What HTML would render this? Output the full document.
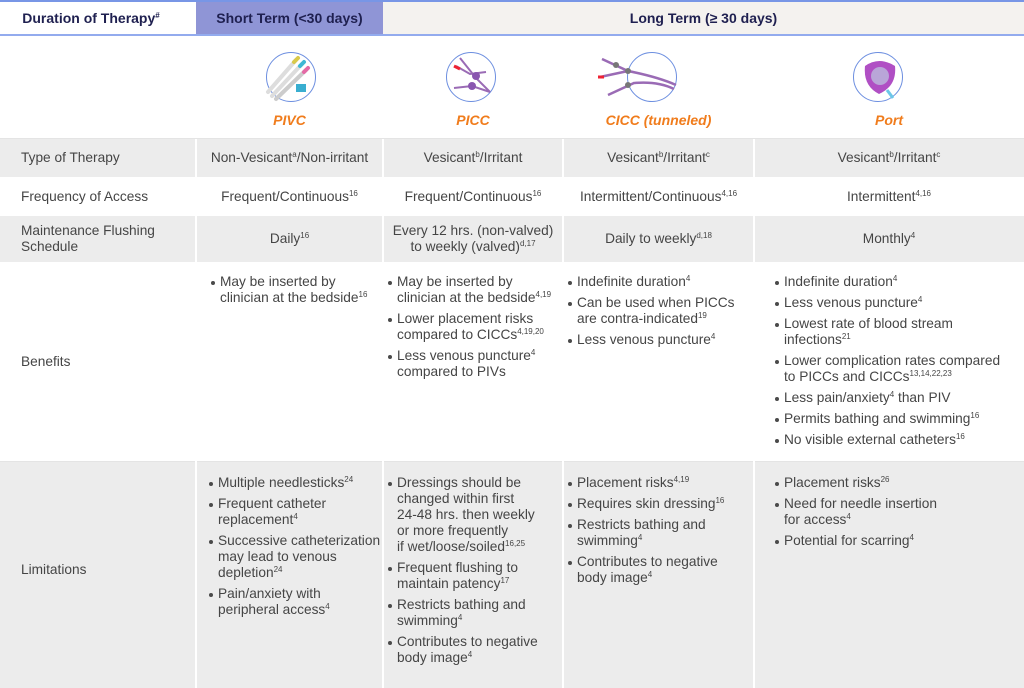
<!DOCTYPE html>
<html><head><meta charset="utf-8"><style>
body{margin:0;width:1024px;height:688px;overflow:hidden;background:#fff;font-family:"Liberation Sans",sans-serif;color:#454545;font-size:13.7px;position:relative}
.a{position:absolute}
.bg{position:absolute;background:#ececec}
.vl{position:absolute;width:2px;background:#fff}
.c{position:absolute;text-align:center;line-height:16px;white-space:nowrap}
.h{font-weight:bold;color:#1f2050;font-size:14px}
.lab{position:absolute;color:#f07c1c;font-weight:bold;font-style:italic;font-size:14px;text-align:center}
ul{position:absolute;margin:0;padding:0;list-style:none;white-space:nowrap;line-height:16px}
li{position:relative;padding-left:9px;margin-bottom:5px}
li:before{content:"";position:absolute;left:0;top:7px;width:4px;height:4px;border-radius:50%;background:#4a4a4a}
ul.p li{padding-left:11px}
ul.p li:before{left:2px}
sup{font-size:8px;line-height:0;vertical-align:5px}
.circ{position:absolute;width:48px;height:48px;border:1.5px solid #6d8fe0;border-radius:50%}
</style></head><body>
<div class="a" style="left:0;top:0;width:1024px;height:2px;background:#7896e6"></div>
<div class="a" style="left:196px;top:2px;width:187px;height:32px;background:#8f95d6"></div>
<div class="a" style="left:383px;top:2px;width:641px;height:32px;background:#f4f2ef"></div>
<div class="a" style="left:0;top:34px;width:1024px;height:2px;background:#93abee"></div>
<div class="c h" style="left:0;width:182px;top:10px">Duration of Therapy<sup>#</sup></div>
<div class="c h" style="left:196px;width:187px;top:10px">Short Term (&lt;30 days)</div>
<div class="c h" style="left:383px;width:641px;top:10px">Long Term (≥ 30 days)</div>
<div class="circ" style="left:266px;top:52px"></div>
<svg class="a" style="left:262px;top:52px" width="56" height="50"><g stroke-linecap="round"><line x1="6" y1="40" x2="34" y2="8" stroke="#ddd" stroke-width="4"/><line x1="10" y1="44" x2="40" y2="12" stroke="#ddd" stroke-width="4"/><line x1="14" y1="47" x2="44" y2="18" stroke="#ccc" stroke-width="4"/><line x1="32" y1="10" x2="36" y2="6" stroke="#d9c94a" stroke-width="4"/><line x1="38" y1="14" x2="42" y2="10" stroke="#3fb8d4" stroke-width="4"/><line x1="42" y1="20" x2="46" y2="16" stroke="#e46aa6" stroke-width="4"/><rect x="34" y="32" width="10" height="8" fill="#39aed0"/></g></svg>
<div class="circ" style="left:446px;top:52px"></div>
<svg class="a" style="left:446px;top:52px" width="52" height="50"><g stroke="#9a6bb5" stroke-width="2" fill="none"><path d="M14 6 L30 26 L44 40"/><path d="M8 36 L26 34 L44 40"/><path d="M10 14 L24 22 L40 20"/></g><line x1="8" y1="14" x2="14" y2="17" stroke="#e23" stroke-width="3"/><circle cx="30" cy="24" r="4" fill="#8a56b0"/><circle cx="26" cy="34" r="4" fill="#8a56b0"/></svg>
<div class="circ" style="left:627px;top:52px"></div>
<svg class="a" style="left:598px;top:55px" width="80" height="45"><g stroke="#9a6bb5" stroke-width="2.5" fill="none"><path d="M4 4 L30 16 Q60 22 78 30"/><path d="M2 22 L30 16"/><path d="M10 40 L36 28 Q60 26 76 34"/></g><line x1="0" y1="22" x2="6" y2="22" stroke="#e23" stroke-width="3"/><circle cx="18" cy="10" r="3" fill="#777"/><circle cx="30" cy="16" r="3" fill="#777"/><circle cx="30" cy="30" r="3" fill="#777"/></svg>
<div class="circ" style="left:853px;top:52px"></div>
<svg class="a" style="left:853px;top:52px" width="52" height="52"><path d="M12 14 Q26 4 42 14 Q44 34 26 42 Q10 34 12 14Z" fill="#b04fc4"/><circle cx="27" cy="24" r="9" fill="#b9a6d8"/><line x1="34" y1="38" x2="40" y2="46" stroke="#6cc7e8" stroke-width="3"/></svg>
<div class="lab" style="left:196px;width:187px;top:112px">PIVC</div>
<div class="lab" style="left:383px;width:180px;top:112px">PICC</div>
<div class="lab" style="left:563px;width:191px;top:112px">CICC (tunneled)</div>
<div class="lab" style="left:754px;width:270px;top:112px">Port</div>
<div class="bg" style="left:0;top:139px;width:1024px;height:38px"></div>
<div class="bg" style="left:0;top:216px;width:1024px;height:46px"></div>
<div class="bg" style="left:0;top:462px;width:1024px;height:226px"></div>
<div class="a" style="left:0;top:138px;width:1024px;height:1px;background:#e4e4e4"></div>
<div class="a" style="left:0;top:461px;width:1024px;height:1px;background:#e4e4e4"></div>
<div class="vl" style="left:195px;top:139px;height:549px"></div>
<div class="vl" style="left:382px;top:139px;height:549px"></div>
<div class="vl" style="left:562px;top:139px;height:549px"></div>
<div class="vl" style="left:753px;top:139px;height:549px"></div>
<div class="c" style="left:21px;top:150px;text-align:left">Type of Therapy</div>
<div class="c" style="left:21px;top:189px;text-align:left">Frequency of Access</div>
<div class="c" style="left:21px;top:223px;text-align:left">Maintenance Flushing<br>Schedule</div>
<div class="c" style="left:21px;top:354px;text-align:left">Benefits</div>
<div class="c" style="left:21px;top:562px;text-align:left">Limitations</div>
<div class="c" style="left:196px;width:187px;top:150px">Non-Vesicant<sup>a</sup>/Non-irritant</div>
<div class="c" style="left:383px;width:180px;top:150px">Vesicant<sup>b</sup>/Irritant</div>
<div class="c" style="left:563px;width:191px;top:150px">Vesicant<sup>b</sup>/Irritant<sup>c</sup></div>
<div class="c" style="left:754px;width:270px;top:150px">Vesicant<sup>b</sup>/Irritant<sup>c</sup></div>
<div class="c" style="left:196px;width:187px;top:189px">Frequent/Continuous<sup>16</sup></div>
<div class="c" style="left:383px;width:180px;top:189px">Frequent/Continuous<sup>16</sup></div>
<div class="c" style="left:563px;width:191px;top:189px">Intermittent/Continuous<sup>4,16</sup></div>
<div class="c" style="left:754px;width:270px;top:189px">Intermittent<sup>4,16</sup></div>
<div class="c" style="left:196px;width:187px;top:231px">Daily<sup>16</sup></div>
<div class="c" style="left:383px;width:180px;top:223px">Every 12 hrs. (non-valved)<br>to weekly (valved)<sup>d,17</sup></div>
<div class="c" style="left:563px;width:191px;top:231px">Daily to weekly<sup>d,18</sup></div>
<div class="c" style="left:754px;width:270px;top:231px">Monthly<sup>4</sup></div>
<ul class="p" style="left:209px;top:274px"><li>May be inserted by<br>clinician at the bedside<sup>16</sup></li></ul>
<ul style="left:388px;top:274px"><li>May be inserted by<br>clinician at the bedside<sup>4,19</sup></li><li>Lower placement risks<br>compared to CICCs<sup>4,19,20</sup></li><li>Less venous puncture<sup>4</sup><br>compared to PIVs</li></ul>
<ul style="left:568px;top:274px"><li>Indefinite duration<sup>4</sup></li><li>Can be used when PICCs<br>are contra-indicated<sup>19</sup></li><li>Less venous puncture<sup>4</sup></li></ul>
<ul class="p" style="left:773px;top:274px"><li>Indefinite duration<sup>4</sup></li><li>Less venous puncture<sup>4</sup></li><li>Lowest rate of blood stream<br>infections<sup>21</sup></li><li>Lower complication rates compared<br>to PICCs and CICCs<sup>13,14,22,23</sup></li><li>Less pain/anxiety<sup>4</sup> than PIV</li><li>Permits bathing and swimming<sup>16</sup></li><li>No visible external catheters<sup>16</sup></li></ul>
<ul class="p" style="left:207px;top:475px"><li>Multiple needlesticks<sup>24</sup></li><li>Frequent catheter<br>replacement<sup>4</sup></li><li>Successive catheterization<br>may lead to venous<br>depletion<sup>24</sup></li><li>Pain/anxiety with<br>peripheral access<sup>4</sup></li></ul>
<ul style="left:388px;top:475px"><li>Dressings should be<br>changed within first<br>24-48 hrs. then weekly<br>or more frequently<br>if wet/loose/soiled<sup>16,25</sup></li><li>Frequent flushing to<br>maintain patency<sup>17</sup></li><li>Restricts bathing and<br>swimming<sup>4</sup></li><li>Contributes to negative<br>body image<sup>4</sup></li></ul>
<ul style="left:568px;top:475px"><li>Placement risks<sup>4,19</sup></li><li>Requires skin dressing<sup>16</sup></li><li>Restricts bathing and<br>swimming<sup>4</sup></li><li>Contributes to negative<br>body image<sup>4</sup></li></ul>
<ul class="p" style="left:773px;top:475px"><li>Placement risks<sup>26</sup></li><li>Need for needle insertion<br>for access<sup>4</sup></li><li>Potential for scarring<sup>4</sup></li></ul>
</body></html>
